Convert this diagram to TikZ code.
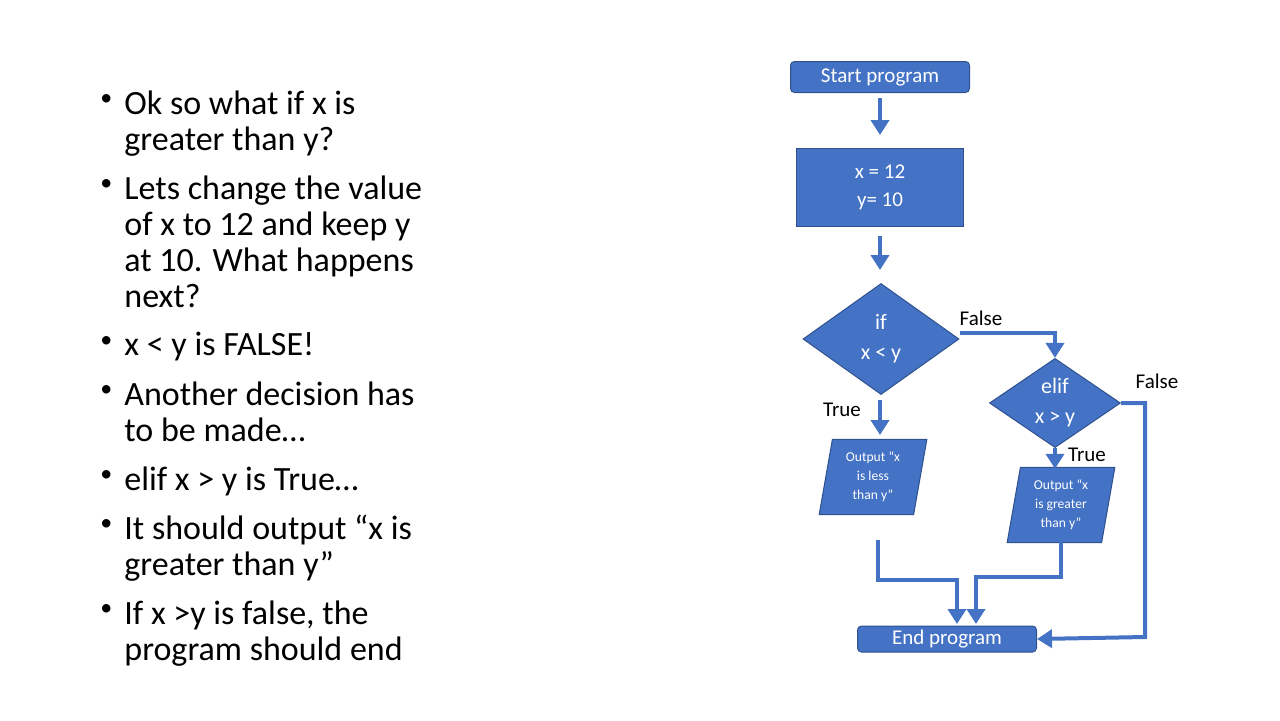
\documentclass[tikz,border=0pt]{standalone}
\usepackage{fontspec}
\setmainfont{Carlito}
\usetikzlibrary{shapes.geometric,arrows.meta}
\definecolor{boxblue}{HTML}{4472C4}
\definecolor{edgeblue}{HTML}{2F528F}
\tikzset{
  blk/.style={fill=boxblue,draw=edgeblue,line width=.5pt,text=white,font=\fontsize{10.5}{12}\selectfont,align=center},
  term/.style={blk,rounded corners=2pt,minimum width=89.5pt,minimum height=15.5pt,inner sep=0pt},
  proc/.style={blk,minimum width=83.5pt,minimum height=39pt},
  dec/.style={blk,diamond,inner sep=0pt,font=\fontsize{11}{12}\selectfont},
  io/.style={blk,trapezium,trapezium left angle=80,trapezium right angle=100,font=\fontsize{6.8}{9.5}\selectfont,inner sep=1pt},
  flow/.style={draw=boxblue,line width=2pt,-{Triangle[length=7.5pt,width=9pt]}},
  lbl/.style={font=\fontsize{10.5}{12}\selectfont},
  item/.style={anchor=north west,align=left,font=\fontsize{17}{18}\selectfont,inner sep=0pt}
}
\begin{document}
\begin{tikzpicture}[x=0.5pt,y=-0.5pt]
      \useasboundingbox (0,0) rectangle (1280,720);
      % bullets
      \foreach \yy/\txt in {90/{Ok so what if x is\\greater than y?},
          175/{Lets change the value\\of x to 12 and keep y\\at 10. What happens\\next?},
          332/{x < y is FALSE!},
          381/{Another decision has\\to be made\dots},
          466/{elif x > y is True\dots},
          515/{It should output “x is\\greater than y”},
          600/{If x >y is false, the\\program should end}}{
        \node[item,font=\fontsize{12}{18}\selectfont] at (100,\yy+4) {\textbullet};
        \node[item] at (124,\yy) {\txt};
      }
      % flowchart
      \node[term] (start) at (880,77) {Start program};
      \node[proc] (init) at (880,187) {x = 12\\[2pt]y= 10};
      \node[dec,minimum width=78pt,minimum height=55.5pt] (if) at (881,339) {if\\[3pt]x < y};
      \node[dec,minimum width=65.5pt,minimum height=41.5pt] (elif) at (1055,403) {elif\\[3pt]x > y};
      \node[io,minimum width=54pt,minimum height=28.5pt] (less) at (873,477) {Output “x\\is less\\than y”};
      \node[io,minimum width=54pt,minimum height=28.5pt] (more) at (1061,505) {Output “x\\is greater\\than y”};
      \node[term,minimum height=13pt] (end) at (947,639) {End program};
      \coordinate (a1) at (880,98);   \coordinate (a2) at (880,135);
      \coordinate (b1) at (880,236);  \coordinate (b2) at (880,270);
      \coordinate (c1) at (880,400);  \coordinate (c2) at (880,435);
      \coordinate (d1) at (878,540);  \coordinate (d2) at (957,624);
      \coordinate (e1) at (1061,533); \coordinate (e2) at (976,624);
      \draw[flow] (a1) -- (a2);
      \draw[flow] (b1) -- (b2);
      \draw[flow] (c1) -- (c2);
      \draw[flow] ([yshift=3pt]if.east) -| (elif.north);
      \draw[flow] (elif.south) -- ([yshift=-1pt]more.north -| elif.south);
      \draw[flow] (d1) |- (957,580) -- (d2);
      \draw[flow] (e1) |- (976,577) -- (e2);
      \draw[flow] (elif.east) -| (1145,637) -- (end.east);
      \node[lbl] at (842,410) {True};
      \node[lbl] at (1087,455) {True};
      \node[lbl] at (981,318) {False};
      \node[lbl] at (1157,381) {False};
    \end{tikzpicture}
\end{document}
